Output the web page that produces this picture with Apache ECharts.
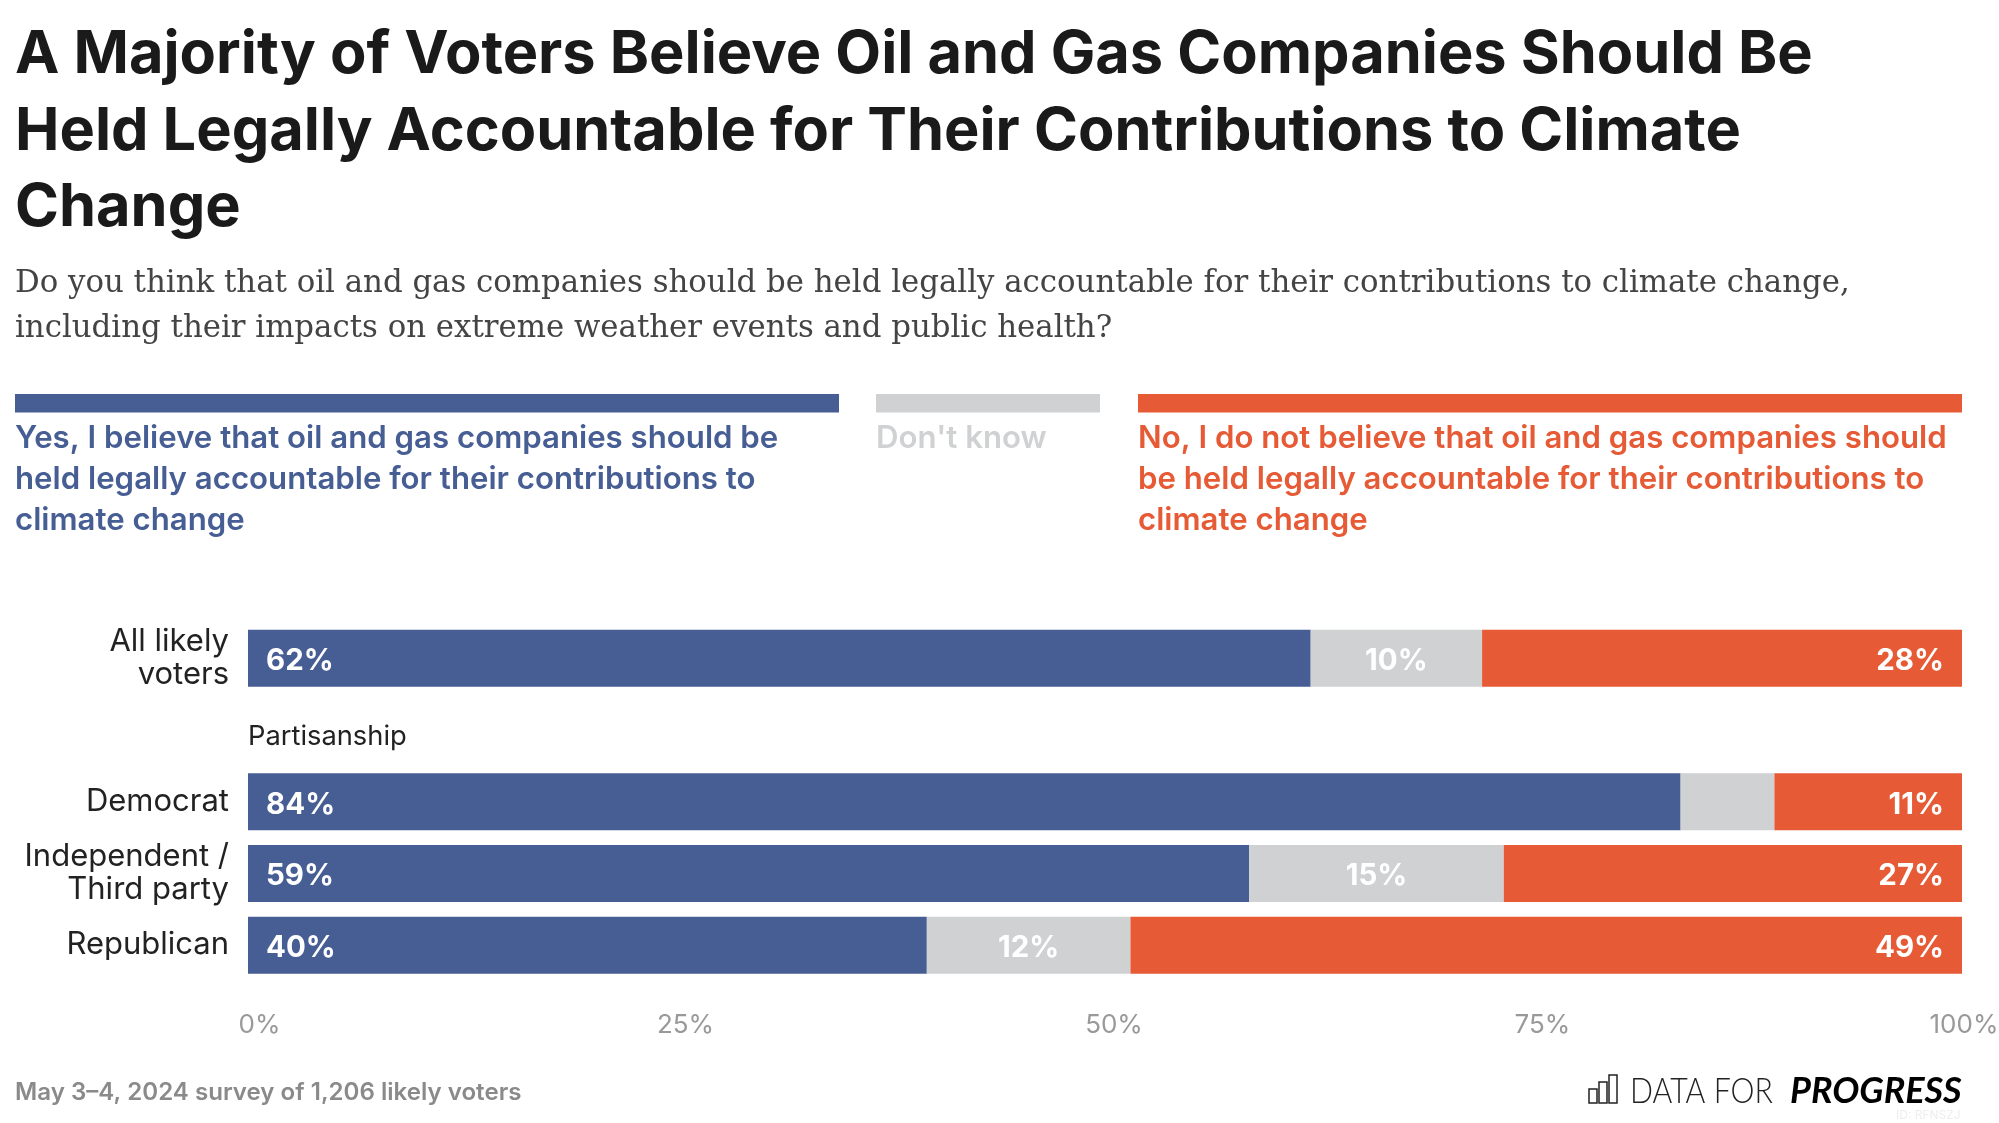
<!DOCTYPE html>
<html>
<head>
<meta charset="utf-8">
<title>Oil and gas accountability poll</title>
<style>html,body{margin:0;padding:0;background:#fff}#chart{width:1999px;height:1123px}</style>
<script src="https://cdn.jsdelivr.net/npm/echarts@6/dist/echarts.min.js"></script>
</head>
<body>
<div id="chart"></div>
<script>
const titleLines = [
  'A Majority of Voters Believe Oil and Gas Companies Should Be',
  'Held Legally Accountable for Their Contributions to Climate',
  'Change'
];
const questionLines = [
  'Do you think that oil and gas companies should be held legally accountable for their contributions to climate change,',
  'including their impacts on extreme weather events and public health?'
];
const yesLines = [
  'Yes, I believe that oil and gas companies should be',
  'held legally accountable for their contributions to',
  'climate change'
];
const unsureLines = ["Don't know"];
const noLines = [
  'No, I do not believe that oil and gas companies should',
  'be held legally accountable for their contributions to',
  'climate change'
];
const footnote = 'May 3–4, 2024 survey of 1,206 likely voters';

// The empty row leaves room for the "Partisanship" heading.
const categories = ['All likely\nvoters', '', 'Democrat', 'Independent /\nThird party', 'Republican'];
const yesValues = [62, null, 84, 59, 40];
const unsureValues = [10, null, 5.5, 15, 12];
const noValues = [28, null, 11, 27, 49];
const tickValues = [0, 25, 50, 75, 100];

const BLUE = '#465E93', GREY = '#D0D1D3', ORANGE = '#E65A35';
const SANS = 'Inter, Lato, sans-serif';
const LOGO = 'Lato, sans-serif';
const SERIF = '"DejaVu Serif", serif';

// Rounded answers can total 101, so each bar is scaled to fill the full width.
const totals = categories.map((_, i) => (yesValues[i] || 0) + (unsureValues[i] || 0) + (noValues[i] || 0));
const shareOf = values => values.map((v, i) => (v == null ? null : v / totals[i] * 100));

// Places lines by baseline; top-anchored text sits about 0.8em above it.
function textLines(lines, x, firstBaseline, pitch, weight, size, family, fill) {
  return lines.map((line, i) => ({
    type: 'text', x, y: firstBaseline + i * pitch - size * 0.82,
    style: { text: line, font: weight + ' ' + size + 'px ' + family, fill }
  }));
}

function stackedSeries(name, values, color, position, distance) {
  return {
    name, type: 'bar', stack: 'answers', barWidth: 57,
    data: shareOf(values).map((share, i) => ({ value: share, rawValue: values[i] })),
    itemStyle: { color },
    label: {
      show: true, position, distance, color: '#fff',
      fontFamily: SANS, fontWeight: 700, fontSize: 29.5, offset: [0, 3],
      // The Democrat "Don't know" slice is too narrow to carry a label.
      formatter: p => (p.data.rawValue == null || p.data.rawValue < 10 ? '' : p.data.rawValue + '%')
    }
  };
}

const legendBars = [
  { x: 15, width: 824, color: BLUE },
  { x: 876, width: 224, color: GREY },
  { x: 1138, width: 824, color: ORANGE }
];

const logoBars = [
  { x: 1589, y: 1089, height: 14 },
  { x: 1599, y: 1082, height: 21 },
  { x: 1609, y: 1075, height: 28 }
];

// The wordmark's first half is a narrow geometric face, so Lato Light is condensed to fit.
const logoLead = textLines(['DATA FOR'], 1630, 1103, 0, 300, 36, LOGO, '#222');
logoLead[0].scaleX = 0.84;

const chart = echarts.init(document.getElementById('chart'));
chart.setOption({
  animation: false,
  backgroundColor: '#fff',
  grid: { left: 248, right: 37, top: 622.5, height: 358.5, outerBoundsMode: 'none' },
  xAxis: {
    type: 'value', min: 0, max: 100, interval: 25,
    axisLine: { show: false }, axisTick: { show: false }, splitLine: { show: false },
    axisLabel: {
      margin: 31,
      hideOverlap: false,
      showMinLabel: true, showMaxLabel: true,
      formatter: v => (tickValues.includes(v) ? (v === 0 ? '{first|' + v + '%}' : v === 100 ? '{last|' + v + '%}' : '{mid|' + v + '%}') : ''),
      rich: {
        first: { fontFamily: SANS, fontSize: 26, color: '#999', padding: [0, 0, 0, 23] },
        mid: { fontFamily: SANS, fontSize: 26, color: '#999', padding: [0, 0, 0, 18] },
        last: { fontFamily: SANS, fontSize: 26, color: '#999', padding: [0, 0, 0, 4] }
      }
    }
  },
  yAxis: {
    type: 'category', inverse: true, data: categories,
    axisLine: { show: false }, axisTick: { show: false }, splitLine: { show: false },
    axisLabel: { margin: 19, fontFamily: SANS, fontSize: 31, lineHeight: 33, color: '#222', align: 'right', padding: [5, 0, 0, 0] }
  },
  series: [
    stackedSeries('Yes', yesValues, BLUE, 'insideLeft', 18),
    stackedSeries("Don't know", unsureValues, GREY, 'inside', 0),
    stackedSeries('No', noValues, ORANGE, 'insideRight', 18)
  ],
  graphic: { elements: [
    ...textLines(titleLines, 15, 74, 76.5, 700, 59.5, SANS, '#1a1a1a'),
    ...textLines(questionLines, 15, 294, 45, 400, 30.8, SERIF, '#444'),
    ...legendBars.map(b => ({ type: 'rect', shape: { x: b.x, y: 394, width: b.width, height: 18.5 }, style: { fill: b.color } })),
    ...textLines(yesLines, 15, 449, 41, 600, 31.2, SANS, BLUE),
    ...textLines(unsureLines, 876, 449, 41, 600, 31.2, SANS, GREY),
    ...textLines(noLines, 1138, 449, 41, 600, 31.2, SANS, ORANGE),
    ...textLines(['Partisanship'], 248, 746, 0, 400, 27.3, SANS, '#222'),
    ...textLines([footnote], 15, 1101, 0, 600, 24.1, SANS, '#8a8a8a'),
    ...logoBars.map(b => ({ type: 'rect', shape: { x: b.x, y: b.y, width: 8, height: b.height }, style: { fill: 'none', stroke: '#222', lineWidth: 1.5 } })),
    ...logoLead,
    ...textLines(['PROGRESS'], 1790, 1103, 0, 'italic 700', 36, LOGO, '#000'),
    ...textLines(['ID: RFNSZJ'], 1896, 1119, 0, 400, 12, SANS, '#eeeeee')
  ] }
});
</script>
</body>
</html>
